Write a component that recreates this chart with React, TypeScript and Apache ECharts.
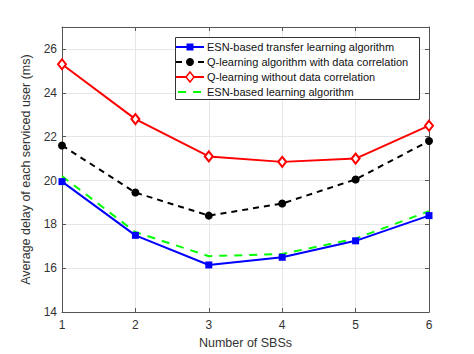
import React, { useEffect, useRef } from "react";
import * as echarts from "echarts";

const categories = [1, 2, 3, 4, 5, 6];
const esnTransfer = [19.95, 17.5, 16.15, 16.5, 17.25, 18.4];
const qWithCorr = [21.6, 19.45, 18.4, 18.95, 20.05, 21.8];
const qWithoutCorr = [25.3, 22.8, 21.1, 20.85, 21.0, 22.5];
const esnLearning = [20.2, 17.65, 16.55, 16.65, 17.35, 18.6];
const yTicks = [14, 16, 18, 20, 22, 24, 26];
const legendNames = [
  "ESN-based transfer learning algorithm",
  "Q-learning algorithm with data correlation",
  "Q-learning without data correlation",
  "ESN-based learning algorithm",
];

const pairs = (vals: number[]) => categories.map((c, i) => [c, vals[i]]);

export default function App() {
  const ref = useRef<HTMLDivElement>(null);
  useEffect(() => {
    const chart = echarts.init(ref.current!, null, { renderer: "svg" });
    const axisColor = "#555";
    const font = "Liberation Sans, Arial, sans-serif";
    const lx = 176, lx2 = 204, mx = 190, tx = 207;
    const rows = [47, 62, 77, 92];
    const legendGraphic: any[] = [
      { type: "rect", shape: { x: 175.5, y: 37.5, width: 244, height: 62 }, style: { fill: "#fff", stroke: "#333", lineWidth: 1 }, z: 10 },
      // row 1 blue
      { type: "line", shape: { x1: lx, y1: rows[0], x2: lx2, y2: rows[0] }, style: { stroke: "#0000ff", lineWidth: 2 }, z: 11 },
      { type: "rect", shape: { x: mx - 3.5, y: rows[0] - 3.5, width: 7, height: 7 }, style: { fill: "#0000ff" }, z: 12 },
      // row 2 black
      { type: "line", shape: { x1: lx, y1: rows[1], x2: lx2, y2: rows[1] }, style: { stroke: "#000", lineWidth: 2, lineDash: [6, 5] }, z: 11 },
      { type: "circle", shape: { cx: mx, cy: rows[1], r: 4 }, style: { fill: "#000" }, z: 12 },
      // row 3 red
      { type: "line", shape: { x1: lx, y1: rows[2], x2: lx2, y2: rows[2] }, style: { stroke: "#ff0000", lineWidth: 2 }, z: 11 },
      { type: "polygon", shape: { points: [[mx, rows[2] - 5], [mx + 4, rows[2]], [mx, rows[2] + 5], [mx - 4, rows[2]]] }, style: { fill: "#fff", stroke: "#ff0000", lineWidth: 1.5 }, z: 12 },
      // row 4 green
      { type: "line", shape: { x1: lx + 2, y1: rows[3], x2: lx2, y2: rows[3] }, style: { stroke: "#00ff00", lineWidth: 2, lineDash: [8, 7] }, z: 11 },
    ];
    legendNames.forEach((n, i) => {
      legendGraphic.push({
        type: "text",
        x: tx,
        y: rows[i],
        style: { text: n, fontSize: 11, fill: "#111", fontFamily: font, verticalAlign: "middle", align: "left" },
        z: 12,
      });
    });
    chart.setOption({
      animation: false,
      backgroundColor: "#fff",
      textStyle: { fontFamily: font },
      grid: { left: 62, right: 45, top: 27, bottom: 38 },
      graphic: legendGraphic,
      xAxis: [
        {
          type: "value",
          min: 1,
          max: 6,
          interval: 1,
          name: "Number of SBSs",
          nameLocation: "middle",
          nameGap: 22,
          nameTextStyle: { fontSize: 12.5, color: "#333" },
          axisLine: { lineStyle: { color: axisColor } },
          axisTick: { inside: true, length: 4, lineStyle: { color: axisColor } },
          axisLabel: { fontSize: 12, color: "#333", margin: 7 },
          splitLine: { show: true, lineStyle: { color: "#e6e6e6" } },
        },
        {
          type: "value",
          position: "top",
          min: 1,
          max: 6,
          interval: 1,
          axisLine: { show: true, lineStyle: { color: axisColor } },
          axisTick: { inside: true, length: 4, lineStyle: { color: axisColor } },
          axisLabel: { show: false },
          splitLine: { show: false },
        },
      ],
      yAxis: [
        {
          type: "value",
          min: 14,
          max: 27,
          interval: 2,
          name: "Average delay of each serviced user (ms)",
          nameLocation: "middle",
          nameGap: 23,
          nameTextStyle: { fontSize: 12.5, color: "#333" },
          axisLine: { show: true, lineStyle: { color: axisColor } },
          axisTick: { inside: true, length: 4, lineStyle: { color: axisColor } },
          axisLabel: {
            fontSize: 12,
            color: "#333",
            margin: 5,
            formatter: (v: number) => (yTicks.includes(v) ? String(v) : ""),
          },
          splitLine: { show: true, lineStyle: { color: "#e6e6e6" } },
        },
        {
          type: "value",
          position: "right",
          min: 14,
          max: 27,
          interval: 2,
          axisLine: { show: true, lineStyle: { color: axisColor } },
          axisTick: { inside: true, length: 4, lineStyle: { color: axisColor } },
          axisLabel: { show: false },
          splitLine: { show: false },
        },
      ],
      series: [
        {
          name: legendNames[0],
          type: "line",
          data: pairs(esnTransfer),
          color: "#0000ff",
          symbol: "rect",
          symbolSize: 7,
          lineStyle: { width: 2, color: "#0000ff" },
          itemStyle: { color: "#0000ff" },
          z: 4,
        },
        {
          name: legendNames[1],
          type: "line",
          data: pairs(qWithCorr),
          color: "#000",
          symbol: "circle",
          symbolSize: 8,
          lineStyle: { width: 2, type: [6, 5], color: "#000" },
          itemStyle: { color: "#000" },
          z: 3,
        },
        {
          name: legendNames[2],
          type: "line",
          data: pairs(qWithoutCorr),
          color: "#ff0000",
          symbol: "emptyDiamond",
          symbolSize: [8, 10],
          lineStyle: { width: 2, color: "#ff0000" },
          itemStyle: { color: "#ff0000", borderWidth: 1.5 },
          z: 3,
        },
        {
          name: legendNames[3],
          type: "line",
          data: pairs(esnLearning),
          color: "#00ff00",
          symbol: "none",
          lineStyle: { width: 2, type: [8, 7], color: "#00ff00" },
          z: 3,
        },
      ],
    });
    return () => chart.dispose();
  }, []);
  return <div ref={ref} style={{ position: "fixed", left: 0, top: 0, width: 474, height: 354 }} />;
}
